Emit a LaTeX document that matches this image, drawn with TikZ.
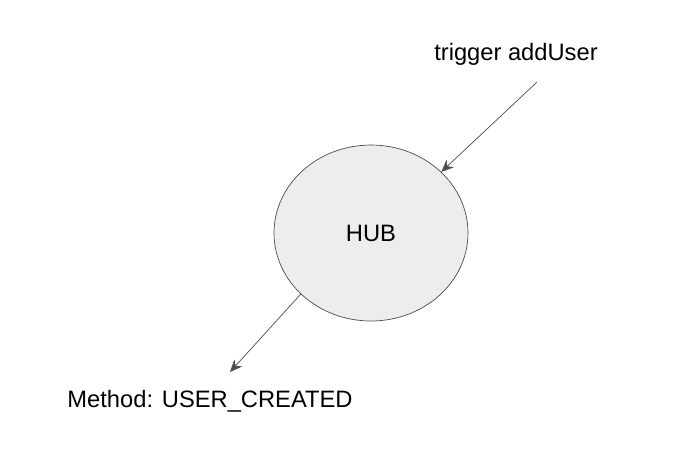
\documentclass[tikz,border=0pt]{standalone}
\usepackage{fontspec}
\setmainfont{Liberation Sans}
\usetikzlibrary{shapes.geometric, arrows.meta, positioning}

\tikzset{
  hubnode/.style={ellipse, draw=black!70, fill=black!7, minimum width=3.88cm, minimum height=3.52cm, font=\fontsize{13.5}{16}\selectfont},
  label/.style={font=\fontsize{13.5}{16}\selectfont},
  link/.style={draw=black!70, -{Stealth[length=7pt,width=6pt]}}
}

\begin{document}
\begin{tikzpicture}[x=0.02cm, y=-0.02cm]
\useasboundingbox (0,0) rectangle (676,451);

% Hub
\node[hubnode] (hub) at (371,233) {HUB};

% Texts
\node[label] (trig) at (516,54) {trigger addUser};
\node[label] (meth) at (210,401) {Method: USER\_CREATED};

% Connectors
\coordinate (trigEnd) at (537,82);
\coordinate (methEnd) at (230,372);
\draw[link] (trigEnd) -- (hub.41.5);
\draw[link] (hub.221.6) -- (methEnd);
\end{tikzpicture}
\end{document}
